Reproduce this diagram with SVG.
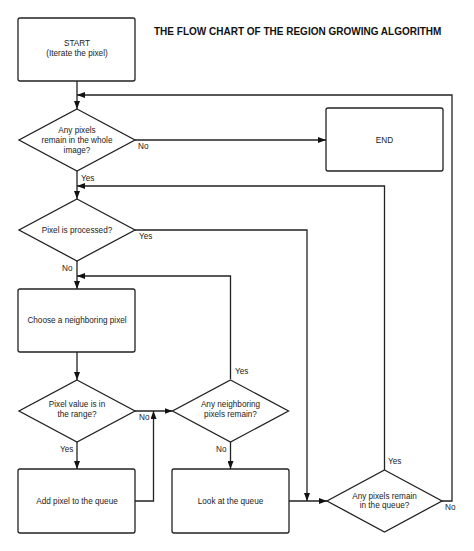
<svg xmlns="http://www.w3.org/2000/svg" width="474" height="551" viewBox="0 0 474 551">
<style>
.n rect,.n polygon{fill:#fff;stroke:#222;stroke-width:1.3}
text{font-family:"Liberation Sans",Arial,sans-serif;font-size:8.2px;fill:#222}
.c{text-anchor:middle}
.t{font-size:10px;font-weight:bold;fill:#111}
#connectors path{fill:none;stroke:#222;stroke-width:1.3}
</style>
<defs>
<marker id="ah" markerUnits="userSpaceOnUse" markerWidth="8" markerHeight="6" refX="8" refY="3" orient="auto">
<path d="M0,0 L8,3 L0,6 z" fill="#111"/>
</marker>
</defs>
<rect width="474" height="551" fill="#fff"/>
<text class="t" x="154" y="35">THE FLOW CHART OF THE REGION GROWING ALGORITHM</text>
<g id="connectors" marker-end="url(#ah)">
<path d="M77,81 V109" marker-end="url(#ah)"/>
<path d="M442,501 H452 V95 H77" marker-end="url(#ah)"/>
<path d="M135,140 H326" marker-end="url(#ah)"/>
<path d="M77,171 V199" marker-end="url(#ah)"/>
<path d="M384.5,470 V186 H77" marker-end="url(#ah)"/>
<path d="M135,230 H307 V501" marker-end="url(#ah)"/>
<path d="M77,261 V289" marker-end="url(#ah)"/>
<path d="M230.5,379 V276 H77" marker-end="url(#ah)"/>
<path d="M77,352 V380" marker-end="url(#ah)"/>
<path d="M135,411 H172.5" marker-end="url(#ah)"/>
<path d="M135,501 H153.5 V411" marker-end="url(#ah)"/>
<path d="M77,442 V469" marker-end="url(#ah)"/>
<path d="M230.5,442 V469" marker-end="url(#ah)"/>
<path d="M289,501 H327" marker-end="url(#ah)"/>
</g>
<g id="start" class="n"><rect x="18" y="18" width="117" height="63" rx="2"/><text class="c" x="77" y="46">START</text><text class="c" x="77" y="56">(Iterate the pixel)</text></g>
<g id="d1" class="n"><polygon points="77,109 135,140 77,171 19,140"/><text class="c" x="77" y="133">Any pixels</text><text class="c" x="77" y="142.5">remain in the whole</text><text class="c" x="77" y="152.5">image?</text></g>
<g id="end" class="n"><rect x="326" y="108" width="117" height="63" rx="2"/><text class="c" x="384.5" y="143">END</text></g>
<g id="d2" class="n"><polygon points="77,199 135,230 77,261 19,230"/><text class="c" x="77" y="233">Pixel is processed?</text></g>
<g id="choose" class="n"><rect x="18" y="289" width="117" height="63" rx="2"/><text class="c" x="77" y="323">Choose a neighboring pixel</text></g>
<g id="d3" class="n"><polygon points="77,380 135,411 77,442 19,411"/><text class="c" x="77" y="407">Pixel value is in</text><text class="c" x="77" y="417">the range?</text></g>
<g id="d4" class="n"><polygon points="230.5,380 288.5,411 230.5,442 172.5,411"/><text class="c" x="230.5" y="407">Any neighboring</text><text class="c" x="230.5" y="417">pixels remain?</text></g>
<g id="add" class="n"><rect x="18" y="469" width="117" height="64" rx="2"/><text class="c" x="77" y="504">Add pixel to the queue</text></g>
<g id="look" class="n"><rect x="172" y="469" width="117" height="64" rx="2"/><text class="c" x="230.5" y="504">Look at the queue</text></g>
<g id="d5" class="n"><polygon points="384.5,470 442,501 384.5,532 327,501"/><text class="c" x="384.5" y="498.5">Any pixels remain</text><text class="c" x="384.5" y="508">in the queue?</text></g>
<g id="labels">
<text x="138" y="149">No</text>
<text x="81" y="181">Yes</text>
<text x="139" y="239">Yes</text>
<text x="62" y="271">No</text>
<text x="235" y="374">Yes</text>
<text x="139" y="420">No</text>
<text x="60" y="452">Yes</text>
<text x="216" y="452">No</text>
<text x="388" y="464">Yes</text>
<text x="445" y="510">No</text>
</g>
</svg>
